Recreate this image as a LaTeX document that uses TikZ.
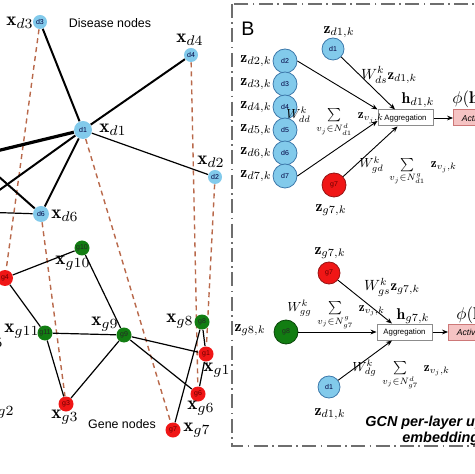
\documentclass[tikz,border=0pt]{standalone}
\usepackage{fontspec}
\setsansfont{Liberation Sans}
\usepackage{amsmath}
\usetikzlibrary{arrows.meta,backgrounds}
\definecolor{dblue}{RGB}{130,202,235}
\definecolor{dblueedge}{RGB}{60,120,170}
\definecolor{ggreen}{RGB}{18,125,18}
\definecolor{ggreenedge}{RGB}{10,70,10}
\definecolor{gred}{RGB}{240,22,22}
\definecolor{grededge}{RGB}{150,20,20}
\definecolor{assoc}{RGB}{185,105,75}
\definecolor{actpink}{RGB}{245,195,195}
\definecolor{actedge}{RGB}{205,120,120}
\definecolor{framegray}{RGB}{110,110,110}
\newcommand{\zlab}[1]{\scalebox{0.78}{$#1$}}
\newcommand{\wsum}[1]{\scalebox{0.66}{$#1$}}
\begin{document}
\begin{tikzpicture}[x=0.5pt,y=-0.5pt,
  nodetext/.style={circle,inner sep=0pt,font=\sffamily\fontsize{3.5}{4}\selectfont},
  dis/.style={nodetext,fill=dblue,text=black!75!blue},
  genG/.style={nodetext,fill=ggreen,text=black!85},
  genR/.style={nodetext,fill=gred,text=black!60!red},
  rdis/.style={dis,draw=dblueedge,line width=0.4pt},
  rgenG/.style={genG,draw=ggreenedge,line width=0.4pt},
  rgenR/.style={genR,draw=grededge,line width=0.4pt},
  xl/.style={inner sep=0pt,font=\fontsize{9.5}{11}\selectfont},
  zl/.style={inner sep=0pt,font=\fontsize{10}{12}\selectfont},
  net/.style={line width=0.6pt},
  netm/.style={line width=1pt},
  netk/.style={line width=1.6pt},
  assocl/.style={draw=assoc,dash pattern=on 2.5pt off 2pt,line width=0.7pt},
  plain/.style={inner sep=0pt,font=\sffamily\fontsize{6.2}{7.5}\selectfont},
  aggbox/.style={draw=black!45,fill=white,line width=0.5pt,minimum width=27.5pt,minimum height=8pt,inner sep=0pt,font=\sffamily\fontsize{3.9}{4.5}\selectfont},
  actbox/.style={draw=actedge,fill=actpink,line width=0.5pt,minimum width=27pt,minimum height=8pt,inner sep=0pt,font=\sffamily\itshape\fontsize{4.3}{5}\selectfont},
  arr/.style={line width=0.45pt,-{Stealth[length=3pt,width=2.4pt]}},
  framel/.style={draw=framegray,line width=0.6pt,dash pattern=on 7pt off 2.2pt on 0.8pt off 2.2pt}
]
\useasboundingbox (0,0) rectangle (474,474);

% ---------------- left graph: nodes ----------------
\node[dis,minimum size=7pt] (d3) at (40,22) {d3};
\node[dis,minimum size=7pt] (d4) at (191,55) {d4};
\node[dis,minimum size=9pt] (d1) at (83,130) {d1};
\node[dis,minimum size=7pt] (d2) at (215,177) {d2};
\node[dis,minimum size=8pt] (d6) at (41,214) {d6};
\node[genG,minimum size=7.5pt] (g10) at (82,248) {g10};
\node[genR,minimum size=8pt] (g4) at (5,278) {g4};
\node[genG,minimum size=7.5pt] (g11) at (45,333) {g11};
\node[genG,minimum size=7.5pt] (g9) at (124,335) {g9};
\node[genG,minimum size=7.5pt] (g8) at (202,322) {g8};
\node[genR,minimum size=7.5pt] (g1) at (206,354) {g1};
\node[genR,minimum size=7.5pt] (g6) at (198,394) {g6};
\node[genR,minimum size=7.5pt] (g7) at (173,430) {g7};
\node[genR,minimum size=7.5pt] (g3) at (66,404) {g3};

\coordinate (L1) at (-20,155);
\coordinate (L2) at (-20,204);
\coordinate (L3) at (-20,160);
\coordinate (L4) at (-20,212);

% labels
\node[xl] (lxd3) at (20,23) {$\mathbf{x}_{d3}$};
\node[plain] (tdis) at (110,23) {Disease nodes};
\node[xl] (lxd4) at (190,40) {$\mathbf{x}_{d4}$};
\node[xl] (lxd1) at (113,130) {$\mathbf{x}_{d1}$};
\node[xl] (lxd2) at (211,162) {$\mathbf{x}_{d2}$};
\node[xl] (lxd6) at (65,216) {$\mathbf{x}_{d6}$};
\node[xl] (lxg10) at (73,263) {$\mathbf{x}_{g10}$};
\node[xl] (lxg11) at (22,331) {$\mathbf{x}_{g11}$};
\node[xl,anchor=east] (lxg5) at (4,343) {$\mathbf{x}_{g5}$};
\node[xl] (lxg9) at (105,324) {$\mathbf{x}_{g9}$};
\node[xl] (lxg8) at (180,321) {$\mathbf{x}_{g8}$};
\node[xl] (lxg1) at (217,370) {$\mathbf{x}_{g1}$};
\node[xl] (lxg6) at (201,408) {$\mathbf{x}_{g6}$};
\node[xl] (lxg7) at (197,430) {$\mathbf{x}_{g7}$};
\node[xl] (lxg3) at (65,417) {$\mathbf{x}_{g3}$};
\node[xl,anchor=east] (lxg2) at (15,411) {$\mathbf{x}_{g2}$};
\node[plain] (tgene) at (122,424) {Gene nodes};

% edges
\begin{pgfonlayer}{background}
\draw[assocl] (d3) -- (g4);
\draw[assocl] (d6) -- (g3);
\draw[assocl] (d1) -- (g7);
\draw[assocl] (d4) -- (g6);
\draw[assocl] (d2) -- (g1);
\end{pgfonlayer}
\draw[netm] (d3) -- (d1);
\draw[netm] (d4) -- (d1);
\draw[net] (d1) -- (d2);
\draw[netm] (d1) -- (d6);
\draw[netk] (d1) -- (L1);
\draw[netm] (d1) -- (L2);
\draw[netm] (d6) -- (L3);
\draw[net] (d6) -- (L4);
\draw[net] (g4) -- (g10);
\draw[net] (g4) -- (g11);
\draw[net] (g10) -- (g9);
\draw[net] (g11) -- (g9);
\draw[net] (g11) -- (g3);
\draw[net] (g3) -- (g9);
\draw[net] (g9) -- (g1);
\draw[net] (g9) -- (g6);
\draw[net] (g8) -- (g1);
\draw[net] (g8) -- (g7);
\draw[net] (g1) -- (g6);

% ---------------- right panel ----------------
\draw[framel] (232,4) rectangle (640,446);
\node[inner sep=0pt,font=\sffamily\fontsize{9.8}{11}\selectfont] (B) at (248,29) {B};

% top section
\node[rdis,minimum size=11pt] (rd1) at (333,49) {d1};
\node[rdis,minimum size=12pt] (rd2) at (285,61) {d2};
\node[rdis,minimum size=12pt] (rd3) at (285,84) {d3};
\node[rdis,minimum size=12pt] (rd4) at (285,107) {d4};
\node[rdis,minimum size=12pt] (rd5) at (285,130) {d5};
\node[rdis,minimum size=12pt] (rd6) at (285,153) {d6};
\node[rdis,minimum size=12pt] (rd7) at (285,176) {d7};
\node[rgenR,minimum size=12pt] (rg7) at (334,185) {g7};

\node[zl] (lzd1) at (339,32) {\zlab{\mathbf{z}_{d1,k}}};
\node[zl] (lzd2) at (256,61) {\zlab{\mathbf{z}_{d2,k}}};
\node[zl] (lzd3) at (256,84) {\zlab{\mathbf{z}_{d3,k}}};
\node[zl] (lzd4) at (256,107) {\zlab{\mathbf{z}_{d4,k}}};
\node[zl] (lzd5) at (256,130) {\zlab{\mathbf{z}_{d5,k}}};
\node[zl] (lzd6) at (256,153) {\zlab{\mathbf{z}_{d6,k}}};
\node[zl] (lzd7) at (256,176) {\zlab{\mathbf{z}_{d7,k}}};
\node[zl] (lzg7) at (331,210) {\zlab{\mathbf{z}_{g7,k}}};

\node[aggbox] (agg1) at (405.5,118) {Aggregation};
\node[actbox,anchor=west] (act1) at (453,118) {Activation};
\node[zl] (lh1) at (418,100) {\zlab{\mathbf{h}_{d1,k}}};
\node[zl,anchor=west] (lphi1) at (452,100) {\scalebox{0.85}{$\phi(\mathbf{h}_{d1,k})$}};

\draw[arr] (rd2.east) -- (agg1.north west);
\draw[arr] (rd1) -- ([xshift=-5.25pt]agg1.north);
\draw[arr] (rd7.east) -- ([yshift=-1.5pt]agg1.west);
\draw[arr] (rg7) -- ([xshift=-4pt]agg1.south);
\draw[arr] (agg1.east) -- (act1.west);

\node[zl] (wds) at (389,75) {\scalebox{0.74}{$W^k_{ds}\mathbf{z}_{d1,k}$}};
\node[zl] (wdd) at (335,122) {\wsum{W^k_{dd}\;\sum\limits_{v_j\in N^d_{d1}}\;\mathbf{z}_{v_j,k}}};
\node[zl] (wgd) at (408,171) {\wsum{W^k_{gd}\;\sum\limits_{v_j\in N^g_{d1}}\;\mathbf{z}_{v_j,k}}};

% bottom section
\node[rgenR,minimum size=11pt] (bg7) at (329,273) {g7};
\node[rgenG,minimum size=12pt] (bg8) at (286,332) {g8};
\node[rdis,minimum size=11pt] (bd1) at (329,387) {d1};

\node[zl] (lbzg7) at (330,253) {\zlab{\mathbf{z}_{g7,k}}};
\node[zl] (lbzg8) at (250,330) {\zlab{\mathbf{z}_{g8,k}}};
\node[zl] (lbzd1) at (330,414) {\zlab{\mathbf{z}_{d1,k}}};

\node[aggbox] (agg2) at (404.5,332) {Aggregation};
\node[actbox,anchor=west] (act2) at (448,332) {Activation};
\node[zl] (lh2) at (413,316) {\zlab{\mathbf{h}_{g7,k}}};
\node[zl,anchor=west] (lphi2) at (456,316) {\scalebox{0.85}{$\phi(\mathbf{h}_{g7,k})$}};

\draw[arr] (bg7) -- ([xshift=-6.25pt]agg2.north);
\draw[arr] (bg8) -- (agg2.west);
\draw[arr] (bd1) -- ([xshift=-6.25pt]agg2.south);
\draw[arr] (agg2.east) -- (act2.west);

\node[zl] (wgs) at (392,287) {\scalebox{0.74}{$W^k_{gs}\mathbf{z}_{g7,k}$}};
\node[zl] (wgg) at (336,315) {\wsum{W^k_{gg}\;\sum\limits_{v_j\in N^g_{g7}}\;\mathbf{z}_{v_j,k}}};
\node[zl] (wdg) at (401,375) {\wsum{W^k_{dg}\;\sum\limits_{v_j\in N^d_{g7}}\;\mathbf{z}_{v_j,k}}};

\node[inner sep=0pt,anchor=west,font=\sffamily\bfseries\itshape\fontsize{7.2}{8.5}\selectfont] (gcn1) at (365,423) {GCN per-layer update};
\node[inner sep=0pt,anchor=west,font=\sffamily\bfseries\itshape\fontsize{7.2}{8.5}\selectfont] (gcn2) at (402,439) {embeddings};
\end{tikzpicture}
\end{document}
